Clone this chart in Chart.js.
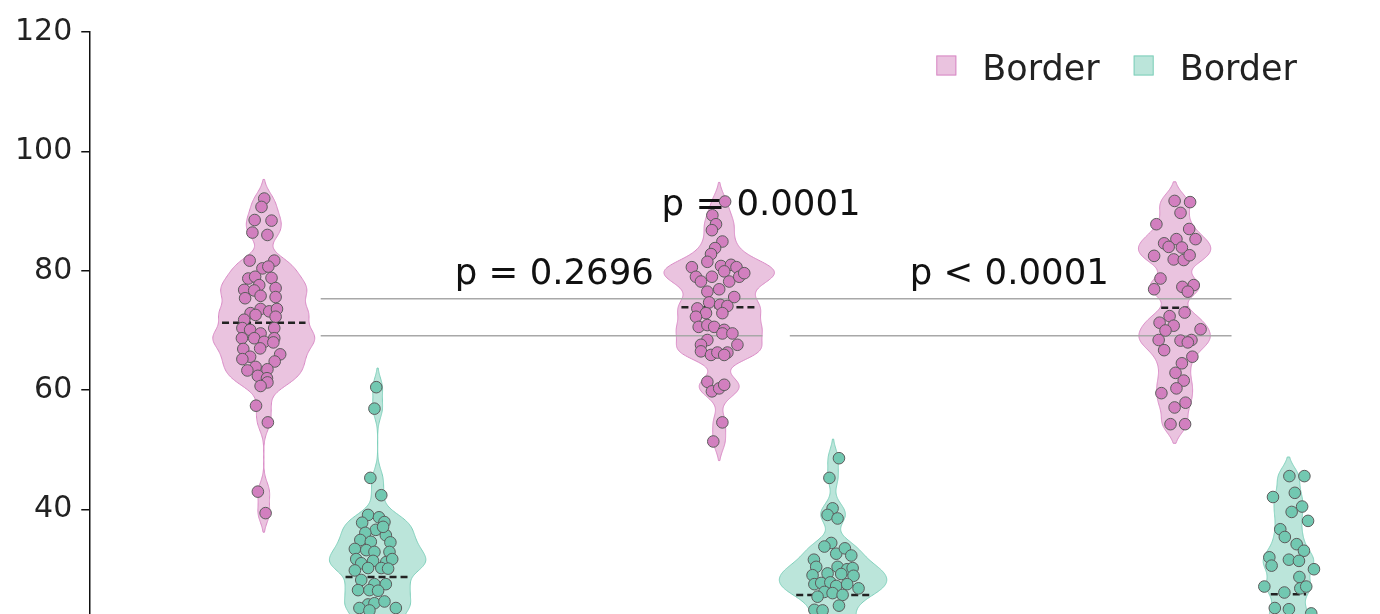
<!DOCTYPE html>
<html>
<head>
<meta charset="utf-8">
<script src="https://cdn.jsdelivr.net/npm/chart.js@4.4.1/dist/chart.umd.min.js"></script>
<style>
  html, body { margin: 0; padding: 0; background: #fff; overflow: hidden; }
  #wrap { position: relative; width: 1380px; height: 614px; }
</style>
</head>
<body>
<div id="wrap"><canvas id="violinChart"></canvas></div>
<script>
/* values (teal tails below the crop are estimates) */
const seriesLabels = ["Border", "Border"];
const tickValues = [40, 60, 80, 100, 120];

const pink1 = [92.1, 90.7, 88.5, 88.4, 86.4, 86.0, 81.7, 81.7, 80.4, 80.7, 78.7, 79.0, 78.8, 77.6, 76.8, 76.7, 77.1, 75.4, 75.8, 75.6, 72.9, 73.6, 73.2, 73.6, 71.8, 72.6, 72.3, 70.4, 70.1, 69.5, 70.4, 68.7, 68.7, 68.1, 68.7, 66.9, 65.6, 67.0, 68.0, 65.2, 63.9, 66.0, 64.8, 63.3, 63.5, 62.4, 62.0, 61.3, 60.7, 57.4, 54.6, 43.0, 39.4];
const pink1Jitter = [0.001, -0.005, -0.020, 0.017, -0.025, 0.008, -0.031, 0.023, -0.003, 0.010, -0.034, -0.019, 0.017, -0.010, -0.043, -0.021, 0.026, -0.041, -0.007, 0.026, -0.029, -0.007, 0.012, 0.029, -0.043, -0.018, 0.026, -0.047, -0.030, -0.007, 0.023, -0.048, -0.021, 0.001, 0.023, -0.045, -0.030, -0.008, 0.021, -0.047, -0.018, 0.036, 0.024, -0.036, 0.008, -0.013, 0.007, 0.008, -0.007, -0.017, 0.009, -0.013, 0.004];

const teal1 = [60.5, 56.9, 45.3, 42.4, 39.1, 38.7, 37.9, 37.8, 36.6, 36.1, 35.7, 37.1, 34.9, 34.6, 34.5, 33.4, 33.2, 32.9, 32.9, 31.7, 31.4, 31.2, 31.7, 31.0, 29.8, 30.2, 30.2, 30.1, 28.2, 27.5, 27.5, 26.5, 26.5, 26.4, 24.1, 24.3, 24.6, 23.5, 23.5, 23.1, 21.3, 20.8, 20.2, 19.5, 18.9, 18.1, 17.3, 16.4, 15.5, 14.3, 13.0, 11.5];
const teal1Jitter = [-0.003, -0.007, -0.016, 0.008, -0.021, 0.003, 0.015, -0.034, -0.004, -0.027, 0.018, 0.012, -0.038, -0.015, 0.028, -0.050, -0.025, -0.007, 0.026, -0.047, -0.010, 0.019, 0.032, -0.036, -0.050, -0.021, 0.008, 0.023, -0.036, -0.007, 0.018, -0.043, -0.018, 0.001, -0.021, -0.007, 0.015, -0.040, 0.040, -0.018, 0.010, -0.030, 0.030, -0.010, 0.020, -0.040, 0.005, -0.020, 0.025, -0.005, 0.015, -0.015];

const pink2 = [91.6, 89.3, 87.8, 86.8, 84.9, 83.8, 82.8, 81.5, 80.6, 80.8, 81.0, 80.6, 79.0, 79.0, 79.9, 78.2, 79.0, 79.6, 78.2, 76.5, 76.9, 75.6, 74.7, 74.3, 74.1, 73.7, 72.9, 72.9, 72.3, 70.6, 70.9, 70.6, 70.1, 69.5, 69.5, 68.4, 67.6, 66.5, 65.9, 66.3, 66.3, 67.6, 65.9, 61.4, 59.8, 60.3, 60.9, 54.6, 51.4];
const pink2Jitter = [0.013, -0.015, -0.007, -0.016, 0.007, -0.009, -0.018, -0.026, -0.060, 0.004, 0.026, 0.038, -0.051, -0.016, 0.011, 0.022, 0.044, 0.055, -0.040, -0.026, 0.000, 0.033, -0.022, 0.002, 0.018, -0.048, -0.029, 0.007, -0.051, -0.045, -0.026, -0.011, 0.011, 0.007, 0.029, -0.026, -0.040, -0.040, -0.018, -0.004, 0.018, 0.040, 0.011, -0.026, -0.016, 0.000, 0.011, 0.007, -0.013];

const teal2 = [48.6, 45.3, 40.2, 39.1, 38.5, 34.4, 33.8, 32.6, 33.5, 32.3, 31.6, 30.4, 30.4, 30.0, 30.2, 29.3, 29.0, 29.2, 28.9, 27.5, 27.7, 27.8, 27.2, 27.5, 26.2, 26.8, 25.4, 26.0, 25.7, 23.9, 23.2, 23.1, 21.3, 20.8, 20.2, 19.7, 19.1, 18.6, 18.0, 17.3, 16.6, 15.8, 15.0, 14.1, 13.0, 11.8, 10.5];
const teal2Jitter = [0.013, -0.008, -0.001, -0.012, 0.010, -0.004, -0.019, 0.007, 0.026, 0.040, -0.042, -0.037, 0.010, 0.031, 0.043, -0.012, -0.045, 0.018, 0.045, -0.041, -0.026, -0.006, 0.007, 0.031, -0.019, 0.056, -0.034, -0.001, 0.021, 0.013, -0.041, -0.023, -0.020, 0.030, -0.040, 0.010, 0.040, -0.015, 0.020, -0.030, 0.005, 0.035, -0.025, 0.010, -0.010, 0.020, -0.005];

const pink3 = [91.7, 91.5, 89.7, 87.8, 87.0, 85.3, 85.3, 84.6, 84.0, 83.9, 82.5, 81.9, 81.8, 82.6, 78.7, 76.9, 77.3, 77.6, 76.5, 73.0, 72.4, 71.3, 70.8, 70.2, 70.0, 68.4, 68.3, 68.4, 68.0, 66.7, 65.6, 64.5, 62.9, 61.6, 59.5, 60.3, 57.9, 57.1, 54.3, 54.3];
const pink3Jitter = [0.000, 0.034, 0.013, -0.040, 0.032, 0.046, 0.004, -0.023, -0.013, 0.016, -0.045, -0.002, 0.020, 0.033, -0.031, -0.045, 0.017, 0.042, 0.029, 0.022, -0.011, -0.033, -0.002, 0.057, -0.020, -0.035, 0.013, 0.037, 0.029, -0.023, 0.039, 0.016, 0.002, 0.020, -0.029, 0.004, 0.024, 0.000, -0.009, 0.023];

const teal3 = [45.6, 45.6, 42.1, 42.8, 40.5, 39.6, 38.1, 36.7, 35.4, 34.2, 33.1, 32.0, 30.6, 31.6, 31.4, 30.0, 28.7, 27.1, 26.8, 27.1, 26.1, 23.5, 23.3, 22.6, 21.2, 20.4, 19.6, 18.7, 17.8, 16.8, 15.7, 14.6, 13.4, 12.0, 10.5, 9.0];
const teal3Jitter = [0.002, 0.035, -0.034, 0.014, 0.030, 0.007, 0.043, -0.018, -0.008, 0.018, 0.034, -0.042, -0.037, 0.001, 0.023, 0.056, 0.024, -0.053, 0.026, 0.039, -0.009, -0.030, 0.001, 0.050, -0.020, 0.030, -0.040, 0.010, 0.040, -0.010, 0.020, -0.030, 0.000, 0.025, -0.015, 0.005];

// dashed line level of each violin, in order pink1, teal1, pink2, teal2, pink3, teal3
const meanLines = [71.3, 28.7, 73.9, 25.7, 73.8, 25.8];

// comparison brackets (x in group units) and their p-values
const bracketFrom = [0, 0, 1.03];
const bracketTo = [2, 0.97, 2];
const bracketLevel = [75.3, 69.1, 69.1];
const pTexts = ["p = 0.2696", "p = 0.0001", "p < 0.0001"];
const pTextX = [0.513, 0.967, 1.512];
const pTextY = [77.8, 89.35, 77.8];

/* styles */
const FONT = "'DejaVu Sans', Verdana, sans-serif";
const pinkDot = "#d27fbf", pinkFill = "#eac3df", pinkEdge = "#d98ac6";
const tealDot = "#72c8b1", tealFill = "#bbe5da", tealEdge = "#7fd0bb";
const sideOffset = 0.125;
const bandwidth = 1.6;
const pinkWidth = 0.047, tealWidth = 0.0395;   // each trace scaled on its own

const violins = [
  { group: 0, side: -1, values: pink1, jitter: pink1Jitter, mean: meanLines[0], fill: pinkFill, edge: pinkEdge, scale: pinkWidth },
  { group: 0, side: 1, values: teal1, jitter: teal1Jitter, mean: meanLines[1], fill: tealFill, edge: tealEdge, scale: tealWidth },
  { group: 1, side: -1, values: pink2, jitter: pink2Jitter, mean: meanLines[2], fill: pinkFill, edge: pinkEdge, scale: pinkWidth },
  { group: 1, side: 1, values: teal2, jitter: teal2Jitter, mean: meanLines[3], fill: tealFill, edge: tealEdge, scale: tealWidth },
  { group: 2, side: -1, values: pink3, jitter: pink3Jitter, mean: meanLines[4], fill: pinkFill, edge: pinkEdge, scale: pinkWidth },
  { group: 2, side: 1, values: teal3, jitter: teal3Jitter, mean: meanLines[5], fill: tealFill, edge: tealEdge, scale: tealWidth }
];

function density(values, v) {
  let s = 0;
  values.forEach(d => {
    const z = (v - d) / bandwidth;
    s += Math.exp(-0.5 * z * z);
  });
  return s / (bandwidth * Math.sqrt(2 * Math.PI));
}

function points(side) {
  const out = [];
  violins.filter(vl => vl.side === side).forEach(vl => {
    vl.values.forEach((v, i) => {
      out.push({ x: vl.group + side * sideOffset + vl.jitter[i], y: v });
    });
  });
  return out;
}

const violinPlugin = {
  id: "violins",
  beforeDatasetsDraw(chart) {
    const { ctx, scales: { x, y } } = chart;
    ctx.save();

    // violin bodies
    violins.forEach(vl => {
      const cx = vl.group + vl.side * sideOffset;
      const lo = Math.min(...vl.values) - 2 * bandwidth;
      const hi = Math.max(...vl.values) + 2 * bandwidth;
      const steps = 300;
      const prof = [];
      for (let i = 0; i <= steps; i++) {
        const v = lo + (hi - lo) * i / steps;
        prof.push([v, density(vl.values, v) * vl.scale]);
      }
      ctx.beginPath();
      prof.forEach(([v, w], i) => {
        const px = x.getPixelForValue(cx + w), py = y.getPixelForValue(v);
        if (i) ctx.lineTo(px, py); else ctx.moveTo(px, py);
      });
      for (let i = prof.length - 1; i >= 0; i--) {
        ctx.lineTo(x.getPixelForValue(cx - prof[i][1]), y.getPixelForValue(prof[i][0]));
      }
      ctx.closePath();
      ctx.fillStyle = vl.fill;
      ctx.fill();
      ctx.strokeStyle = vl.edge;
      ctx.lineWidth = 1;
      ctx.stroke();
    });

    // comparison lines
    ctx.strokeStyle = "#a8a8a8";
    ctx.lineWidth = 1.5;
    bracketLevel.forEach((lv, i) => {
      const py = y.getPixelForValue(lv);
      ctx.beginPath();
      ctx.moveTo(x.getPixelForValue(bracketFrom[i]), py);
      ctx.lineTo(x.getPixelForValue(bracketTo[i]), py);
      ctx.stroke();
    });

    // dashed mean lines
    ctx.strokeStyle = "#222";
    ctx.lineWidth = 2.5;
    ctx.setLineDash([7, 4]);
    violins.forEach(vl => {
      const cx = vl.group + vl.side * sideOffset;
      const w = density(vl.values, vl.mean) * vl.scale * 0.92;
      const py = y.getPixelForValue(vl.mean);
      ctx.beginPath();
      ctx.moveTo(x.getPixelForValue(cx - w), py);
      ctx.lineTo(x.getPixelForValue(cx + w), py);
      ctx.stroke();
    });
    ctx.setLineDash([]);

    // p-values
    ctx.fillStyle = "#111";
    ctx.font = "35.5px " + FONT;
    ctx.textAlign = "center";
    ctx.textBaseline = "alphabetic";
    pTexts.forEach((t, i) => {
      ctx.fillText(t, x.getPixelForValue(pTextX[i]), y.getPixelForValue(pTextY[i]));
    });
    ctx.restore();
  },
  afterDraw(chart) {
    // legend inside the plot, top right
    const { ctx, chartArea } = chart;
    const fills = [pinkFill, tealFill], edges = [pinkEdge, tealEdge];
    ctx.save();
    ctx.font = "35px " + FONT;
    const widths = seriesLabels.map(t => 20 + 26 + ctx.measureText(t).width);
    const gap = 34;
    let xPos = chartArea.right - 83 - widths.reduce((a, b) => a + b, 0) - gap * (widths.length - 1);
    seriesLabels.forEach((t, i) => {
      ctx.fillStyle = fills[i];
      ctx.fillRect(xPos, 55.5, 20, 20);
      ctx.strokeStyle = edges[i];
      ctx.lineWidth = 1;
      ctx.strokeRect(xPos + 0.5, 56, 19, 19);
      ctx.fillStyle = "#222";
      ctx.textAlign = "left";
      ctx.textBaseline = "alphabetic";
      ctx.fillText(t, xPos + 46, 80);
      xPos += widths[i] + gap;
    });
    ctx.restore();
  }
};

const chartCtx = document.getElementById("violinChart");

new Chart(chartCtx, {
  type: "scatter",
  data: {
    datasets: [{
      label: seriesLabels[0],
      data: points(-1),
      backgroundColor: pinkDot,
      borderColor: "#5c5c5c",
      borderWidth: 1,
      pointRadius: 5.8,
      clip: false
    }, {
      label: seriesLabels[1],
      data: points(1),
      backgroundColor: tealDot,
      borderColor: "#5c5c5c",
      borderWidth: 1,
      pointRadius: 5.8,
      clip: false
    }]
  },
  options: {
    responsive: true,
    maintainAspectRatio: false,
    animation: false,
    events: [],
    layout: { autoPadding: false, padding: { left: 6, top: 32, right: 0, bottom: 0 } },
    scales: {
      x: {
        type: "linear",
        display: false,
        min: -0.5082,
        max: 2.326
      },
      y: {
        type: "linear",
        min: 22.5,
        max: 120,
        afterBuildTicks: s => { s.ticks = tickValues.map(v => ({ value: v })); },
        afterFit: s => { s.paddingBottom = 0; s.paddingTop = 0; },
        border: { display: true, color: "#111", width: 1.5 },
        grid: { drawOnChartArea: false, drawTicks: true, tickLength: 8, color: "#111", lineWidth: 1.5 },
        ticks: { padding: 9, color: "#222", font: { family: FONT, size: 30 } }
      }
    },
    plugins: {
      legend: { display: false },
      tooltip: { enabled: false }
    }
  },
  plugins: [violinPlugin]
});
</script>
</body>
</html>
